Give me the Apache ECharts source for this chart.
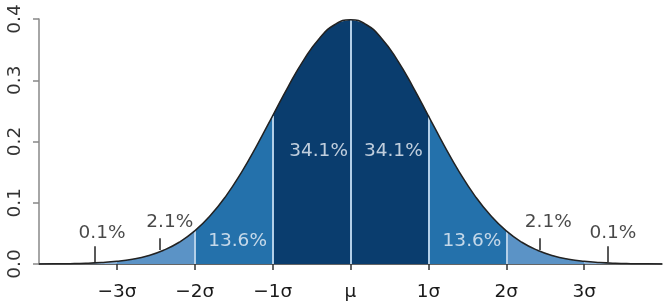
<!DOCTYPE html>
<html>
<head>
<meta charset="utf-8">
<script src="https://cdn.jsdelivr.net/npm/echarts@6/dist/echarts.min.js"></script>
<style>html,body{margin:0;padding:0;background:#fff}#c{width:665px;height:305px}</style>
</head>
<body>
<div id="c"></div>
<script>
// x positions in units of sigma, and density
const xs = [-4,-3.8,-3.6,-3.4,-3.2,-3,-2.8,-2.6,-2.4,-2.2,-2,-1.8,-1.6,-1.4,-1.2,-1,-0.8,-0.6,-0.4,-0.2,0,
            0.2,0.4,0.6,0.8,1,1.2,1.4,1.6,1.8,2,2.2,2.4,2.6,2.8,3,3.2,3.4,3.6,3.8,4];
const density = [0.0001,0.0003,0.0006,0.0012,0.0024,0.0044,0.0079,0.0136,0.0224,0.0355,0.0540,0.0790,0.1109,0.1497,0.1942,0.2420,0.2897,0.3332,0.3683,0.3910,0.3989,
                 0.3910,0.3683,0.3332,0.2897,0.2420,0.1942,0.1497,0.1109,0.0790,0.0540,0.0355,0.0224,0.0136,0.0079,0.0044,0.0024,0.0012,0.0006,0.0003,0.0001];
// band boundaries (sigma)
const bandEdges = [-4,-3,-2,-1,0,1,2,3,4];
const bandColors = ['#8db4da','#5b93c6','#2471ab','#0a3d6e','#0a3d6e','#2471ab','#5b93c6','#8db4da'];
// x tick labels
const tickValues = [-3,-2,-1,0,1,2,3];
const tickLabels = ['\u22123\u03c3','\u22122\u03c3','\u22121\u03c3','\u03bc','1\u03c3','2\u03c3','3\u03c3'];
// vertical separator lines
const dividers = [-2,-1,0,1,2];
// percentage labels: [x, y, text]
const pctLabels = [
  [-3.19,0.0506,'0.1%'],[-2.32,0.0686,'2.1%'],[-1.45,0.0376,'13.6%'],[-0.41,0.1845,'34.1%'],
  [0.55,0.1845,'34.1%'],[1.56,0.0376,'13.6%'],[2.54,0.0686,'2.1%'],[3.37,0.0506,'0.1%']
];
const pctDark = [true,true,false,false,false,false,true,true];
// small pointer marks: [x, y0, y1]
const pointers = [[-3.28,0.003,0.029],[-2.45,0.023,0.042],[2.43,0.023,0.042],[3.3,0.003,0.029]];

const pts = xs.map((x,i)=>[x,density[i]]);
function densityAt(x){ return density[xs.indexOf(x)]; }

const series = [];
for (let b=0;b<bandEdges.length-1;b++){
  const lo=bandEdges[b]-1e-9, hi=bandEdges[b+1]+1e-9;
  series.push({
    type:'line', smooth:true, symbol:'none', silent:true,
    data: pts.filter(p=>p[0]>=lo && p[0]<=hi),
    lineStyle:{width:0}, areaStyle:{color:bandColors[b], opacity:1}, z:1
  });
}
series.push({
  type:'line', smooth:true, symbol:'none', silent:true, data:pts,
  lineStyle:{color:'#222', width:1.5}, z:5,
  markLine:{
    silent:true, symbol:'none', label:{show:false}, animation:false,
    data: dividers.map(x=>[{coord:[x,0],lineStyle:{color:'#b3cfe8',width:2,type:'solid'}},{coord:[x,densityAt(x)]}])
      .concat(pointers.map(p=>[{coord:[p[0],p[1]],lineStyle:{color:'#222',width:1.5,type:'solid'}},{coord:[p[0],p[2]]}]))
  }
});
series.push({
  type:'scatter', symbolSize:0, silent:true, z:10,
  data: pctLabels.map((p,i)=>({value:[p[0],p[1]], label:{color: pctDark[i]?'#1a1a1a':'#eef3f9'}, name:p[2]})),
  label:{show:true, position:'inside', formatter:(d)=>d.name, fontSize:18.5, fontFamily:'DejaVu Sans',
    textBorderWidth:0, textShadowBlur:0}
});

const chart = echarts.init(document.getElementById('c'), null, {renderer:'canvas'});
chart.setOption({
  animation:false,
  grid:{left:39, right:3, top:19, bottom:41, containLabel:false},
  xAxis:{
    type:'value', min:-4, max:4, interval:1,
    axisLine:{show:true, onZero:false, lineStyle:{color:'#333', width:1.5}},
    axisTick:{show:true, length:6, customValues:tickValues, lineStyle:{color:'#333', width:1.5}},
    axisLabel:{customValues:tickValues, margin:19, fontSize:18.5, fontFamily:'DejaVu Sans', color:'#1a1a1a',
      formatter:(v)=>{const i=tickValues.indexOf(Math.round(v)); return i>=0?tickLabels[i]:'';}},
    splitLine:{show:false}
  },
  yAxis:{
    type:'value', min:0, max:0.4, interval:0.1,
    axisLine:{show:true, onZero:false, lineStyle:{color:'#888', width:1.5}},
    axisTick:{show:true, length:6, lineStyle:{color:'#888', width:1.5}},
    axisLabel:{rotate:90, margin:14, fontSize:18.5, fontFamily:'DejaVu Sans', color:'#333',
      formatter:(v)=>v.toFixed(1)},
    splitLine:{show:false}
  },
  series:series
});
</script>
</body>
</html>
